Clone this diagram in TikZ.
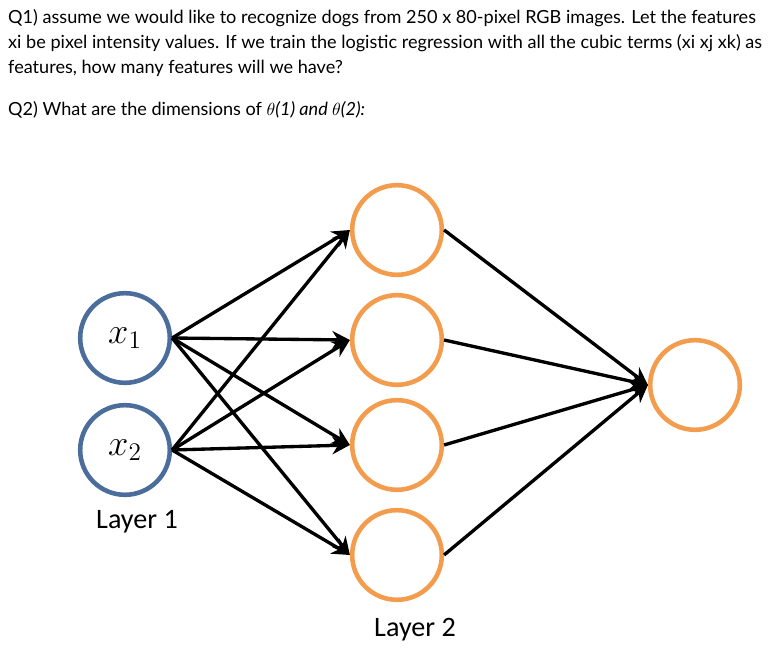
\documentclass[tikz,border=0pt]{standalone}
\usepackage{fontspec}
\setmainfont{Lato}
\newfontfamily\layerfont{Carlito}
\usetikzlibrary{arrows.meta}
\definecolor{inblue}{HTML}{4A6D9C}
\definecolor{hidorange}{HTML}{F39C4D}
\tikzset{
    inp/.style={circle, draw=inblue, line width=2.6pt, minimum size=90pt*0.5669},
    hid/.style={circle, draw=hidorange, line width=2.6pt, minimum size=90pt*0.5669},
    conn/.style={-{Stealth[length=10pt,width=10pt]}, line width=1.9pt, black},
    txt/.style={anchor=west, font=\fontsize{10.3}{14.2}\selectfont}
}
\begin{document}
\begin{tikzpicture}[x=0.02cm, y=-0.02cm]
    \useasboundingbox (0,0) rectangle (772,668);
    % Questions
    \node[txt, align=left, anchor=north west] (q1) at (2,3)
        {Q1) assume we would like to recognize dogs from 250 x 80-pixel RGB images. Let the features\\
         xi be pixel intensity values. If we train the logistic regression with all the cubic terms (xi xj xk) as\\
         features, how many features will we have?};
    \node[txt] (q2) at (2,110) {Q2) What are the dimensions of \textbf{$\theta$}\textit{(1) and }\textbf{$\theta$}\textit{(2):}};
    % Inputs
    \node[inp] (x1) at (125,338) {\huge $x_1$};
    \node[inp] (x2) at (125,450) {\huge $x_2$};
    % Hidden layer
    \node[hid] (h1) at (397,230) {};
    \node[hid] (h2) at (397,340) {};
    \node[hid] (h3) at (397,445) {};
    \node[hid] (h4) at (397,555) {};
    % Output
    \node[hid] (o) at (695,385) {};
    % Labels
    \node[font=\layerfont\fontsize{16}{18}\selectfont] (l1) at (137,522) {Layer 1};
    \node[font=\layerfont\fontsize{16}{18}\selectfont] (l2) at (415,630) {Layer 2};
    % Connections
    \foreach \i in {x1,x2}
        \foreach \j in {h1,h2,h3,h4}
            \draw[conn] (\i.east) -- (\j.west);
    \foreach \j in {h1,h2,h3,h4}
        \draw[conn] (\j.east) -- (o.west);
\end{tikzpicture}
\end{document}
